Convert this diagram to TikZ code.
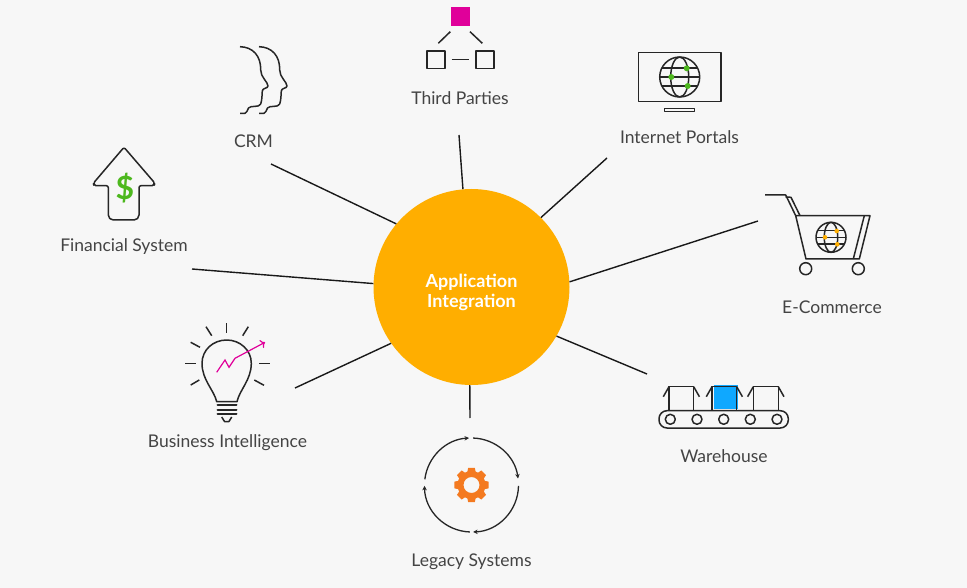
\documentclass[tikz,border=0pt]{standalone}
\usepackage{fontspec}
\setmainfont{Lato}
\usepackage{tikz}
\usetikzlibrary{positioning, shapes, arrows.meta}
\definecolor{HubOrange}{HTML}{FFAE00}
\definecolor{DotGreen}{HTML}{4DB81E}
\definecolor{BoxBlue}{HTML}{0FA8FF}
\definecolor{TreeMagenta}{HTML}{E0009A}
\definecolor{GearOrange}{HTML}{F47A20}
\definecolor{LabelGray}{HTML}{444444}
\tikzset{
  iconline/.style={line width=1.5pt, color=black!85, line join=round},
  ringline/.style={iconline, line width=1.3pt, -{Stealth[length=4.5pt, width=4.5pt]}},
  spoke/.style={line width=1.4pt, color=black!90},
  caption/.style={font=\fontsize{17.5}{20}\selectfont, text=LabelGray, inner sep=0pt, anchor=base},
}
% globe for the monitor and the cart
\newcommand{\globeicon}[3]{
  \draw[iconline] (#1, #2) circle (#3pt);
  \draw[iconline] (#1, #2) circle [x radius=0.45*#3pt, y radius=#3pt];
  \draw[iconline] (#1-0.89*#3, #2-0.45*#3) -- (#1+0.89*#3, #2-0.45*#3);
  \draw[iconline] (#1-#3, #2) -- (#1+#3, #2);
  \draw[iconline] (#1-0.89*#3, #2+0.45*#3) -- (#1+0.89*#3, #2+0.45*#3);
}
\newcommand{\crmhead}[1]{
  \draw[iconline, xshift=#1pt] (240, 46.7) .. controls (253, 47) and (261, 56) .. (260.7, 70)
    .. controls (260.5, 77) and (268, 82) .. (268, 86) .. controls (268, 88.5) and (262.3, 88) .. (262.3, 91)
    .. controls (262, 96) and (262, 100) .. (260.7, 104) .. controls (259, 108) and (251, 105) .. (248.5, 108)
    .. controls (247, 110) and (247, 113.3) .. (245, 113.3) -- (240, 113.3);
}
\newcommand{\belticon}[2]{
  \draw[iconline] (#1, 410.7) -- (#1, 386.7) -- (#2, 386.7) -- (#2, 410.7);
  \draw[iconline] (#1, 386.7) -- (#1-5.7, 396.7);
  \draw[iconline] (#2, 386.7) -- (#2+5.7, 396.7);
}
\begin{document}
\begin{tikzpicture}[x=1pt, y=-1pt]
\useasboundingbox (0, 0) rectangle (967, 588);
\fill[color=black!3] (0, 0) rectangle (967, 588);

\node[circle, fill=HubOrange, minimum size=196pt, inner sep=0pt] (hub) at (471.5, 287) {};
\node[font=\fontsize{18}{20}\selectfont\bfseries, text=white, align=center, inner sep=0pt] (hubtext) at (471.5, 292.5) {Application\\Integration};

\coordinate (endThird) at (459, 135);
\coordinate (endPortals) at (607, 158);
\coordinate (endCommerce) at (758, 221);
\coordinate (endWarehouse) at (647, 374);
\coordinate (endLegacy) at (470, 418);
\coordinate (endBusiness) at (295, 388);
\coordinate (endFinancial) at (192, 269);
\coordinate (endCrm) at (271, 164);
\foreach \spokeang/\spokeend in {95/endThird, 45.2/endPortals, 3.5/endCommerce, -30.6/endWarehouse, -91/endLegacy, 215.3/endBusiness, 178.8/endFinancial, 140.6/endCrm}
  \draw[spoke] (hub.\spokeang) -- (\spokeend);

\node[caption] (Third) at (460, 105) {Third Parties};
\node[caption] (Crm) at (253.5, 148) {CRM};
\node[caption] (Portals) at (679.5, 144) {Internet Portals};
\node[caption] (Commerce) at (832, 313.5) {E-Commerce};
\node[caption] (Warehouse) at (724, 462.5) {Warehouse};
\node[caption] (Legacy) at (471.5, 566) {Legacy Systems};
\node[caption] (Business) at (227.5, 447) {Business Intelligence};
\node[caption] (Financial) at (124, 252) {Financial System};

% third parties
\fill[color=TreeMagenta] (451, 7) rectangle (469.5, 26);
\draw[iconline] (427, 51) rectangle (445, 68.5);
\draw[iconline] (476, 51) rectangle (494, 68.5);
\draw[iconline] (450.3, 31.7) -- (438.3, 43.3);
\draw[iconline] (470, 31.7) -- (482.3, 43.3);
\draw[iconline] (451.7, 59.3) -- (468.7, 59.3);

% crm
\crmhead{0}
\crmhead{19}

% internet portals
\draw[iconline] (638.3, 52.7) rectangle (721, 101.7);
\draw[iconline, line width=1pt] (664.7, 108.7) rectangle (694.7, 112);
\globeicon{679.7}{77}{20}
\fill[color=DotGreen] (686.7, 68.3) circle (3pt);
\fill[color=DotGreen] (671.3, 77) circle (3pt);
\fill[color=DotGreen] (687.7, 86) circle (3pt);

% e-commerce
\draw[iconline] (765, 195) -- (785.7, 195) -- (795.7, 215.7);
\draw[iconline] (795.7, 215.7) -- (806, 259) -- (859.3, 259) -- (870, 215.7) -- cycle;
\draw[iconline] (785.7, 197) -- (791, 197.3) -- (800, 215.7);
\draw[iconline] (864.3, 215.7) -- (853.3, 259);
\draw[iconline] (805.7, 268.7) circle (6pt);
\draw[iconline] (858.3, 268.7) circle (6pt);
\globeicon{831}{237.3}{15}
\fill[color=HubOrange] (836.7, 231) circle (2.3pt);
\fill[color=HubOrange] (825, 237.3) circle (2.3pt);
\fill[color=HubOrange] (837.3, 244.3) circle (2.3pt);

% warehouse
\fill[color=BoxBlue] (714, 385.3) rectangle (737.7, 408.7);
\belticon{669}{693.7}
\belticon{712}{736.7}
\belticon{753.3}{778.3}
\draw[iconline, rounded corners=8pt] (659, 410.7) rectangle (788.3, 428);
\foreach \wheelx in {670.3, 697, 723.7, 750.3, 777}
  \draw[iconline] (\wheelx, 419.3) circle (5pt);

% legacy systems
\coordinate (ring) at (471.5, 485);
\draw[ringline] ([shift={(88:47pt)}]ring) arc[start angle=88, end angle=8, radius=47pt];
\draw[ringline] ([shift={(-1:47pt)}]ring) arc[start angle=-1, end angle=-88, radius=47pt];
\draw[ringline] ([shift={(-92:47pt)}]ring) arc[start angle=-92, end angle=-179, radius=47pt];
\draw[ringline] ([shift={(173:47pt)}]ring) arc[start angle=173, end angle=93, radius=47pt];
\fill[color=GearOrange, even odd rule] ([shift={(-17:14pt)}]ring)
  \foreach \toothang in {0, 45, ..., 315} {
    -- ([shift={(\toothang-17:14pt)}]ring) -- ([shift={(\toothang-11:17.5pt)}]ring)
    -- ([shift={(\toothang+11:17.5pt)}]ring) -- ([shift={(\toothang+17:14pt)}]ring)
  } -- cycle
  (ring) circle (8pt);

% business intelligence
\draw[iconline] (216.7, 401.7) .. controls (214, 390) and (202, 380) .. (202, 363.3)
  .. controls (202, 350) and (213, 340) .. (226.7, 340)
  .. controls (240, 340) and (251.3, 350) .. (251.3, 363.3)
  .. controls (251.3, 380) and (239.5, 390) .. (237, 401.7) -- cycle;
\foreach \basey in {405.3, 409.7, 413.7}
  \draw[iconline, line width=2pt, line cap=round] (217.5, \basey) -- (236.5, \basey);
\draw[iconline] (221.7, 417) -- (224.5, 421.5) -- (229, 421.5) -- (231.7, 417);
\draw[iconline] (226.7, 323.3) -- (226.7, 333.3);
\draw[iconline] (206, 326.7) -- (211.7, 335.7);
\draw[iconline] (248.3, 326.7) -- (242.7, 335.7);
\draw[iconline] (190.7, 342.3) -- (200, 347.3);
\draw[iconline] (185, 363.3) -- (195.7, 363.3);
\draw[iconline] (190.7, 385) -- (199.3, 380);
\draw[iconline] (259.3, 363.3) -- (270, 363.3);
\draw[iconline] (254.3, 380) -- (264, 385.3);
\draw[color=TreeMagenta, line width=1.2pt, ->] (216.7, 372.3) -- (225, 360) -- (229, 367.3) -- (235, 358.3) -- (265, 342.3);

% financial system
\draw[iconline, rounded corners=2pt] (124, 147.3) -- (155, 183.3) -- (154, 185.7) -- (139, 185.7)
  [rounded corners=5pt] -- (139, 220) -- (108.3, 220)
  [rounded corners=2pt] -- (108.3, 185.7) -- (94, 185.7) -- (93.3, 183.3) -- cycle;
\node[font=\fontsize{32}{32}\selectfont\bfseries, text=DotGreen, inner sep=0pt] (dollar) at (125, 187.7) {\$};
\end{tikzpicture}
\end{document}
